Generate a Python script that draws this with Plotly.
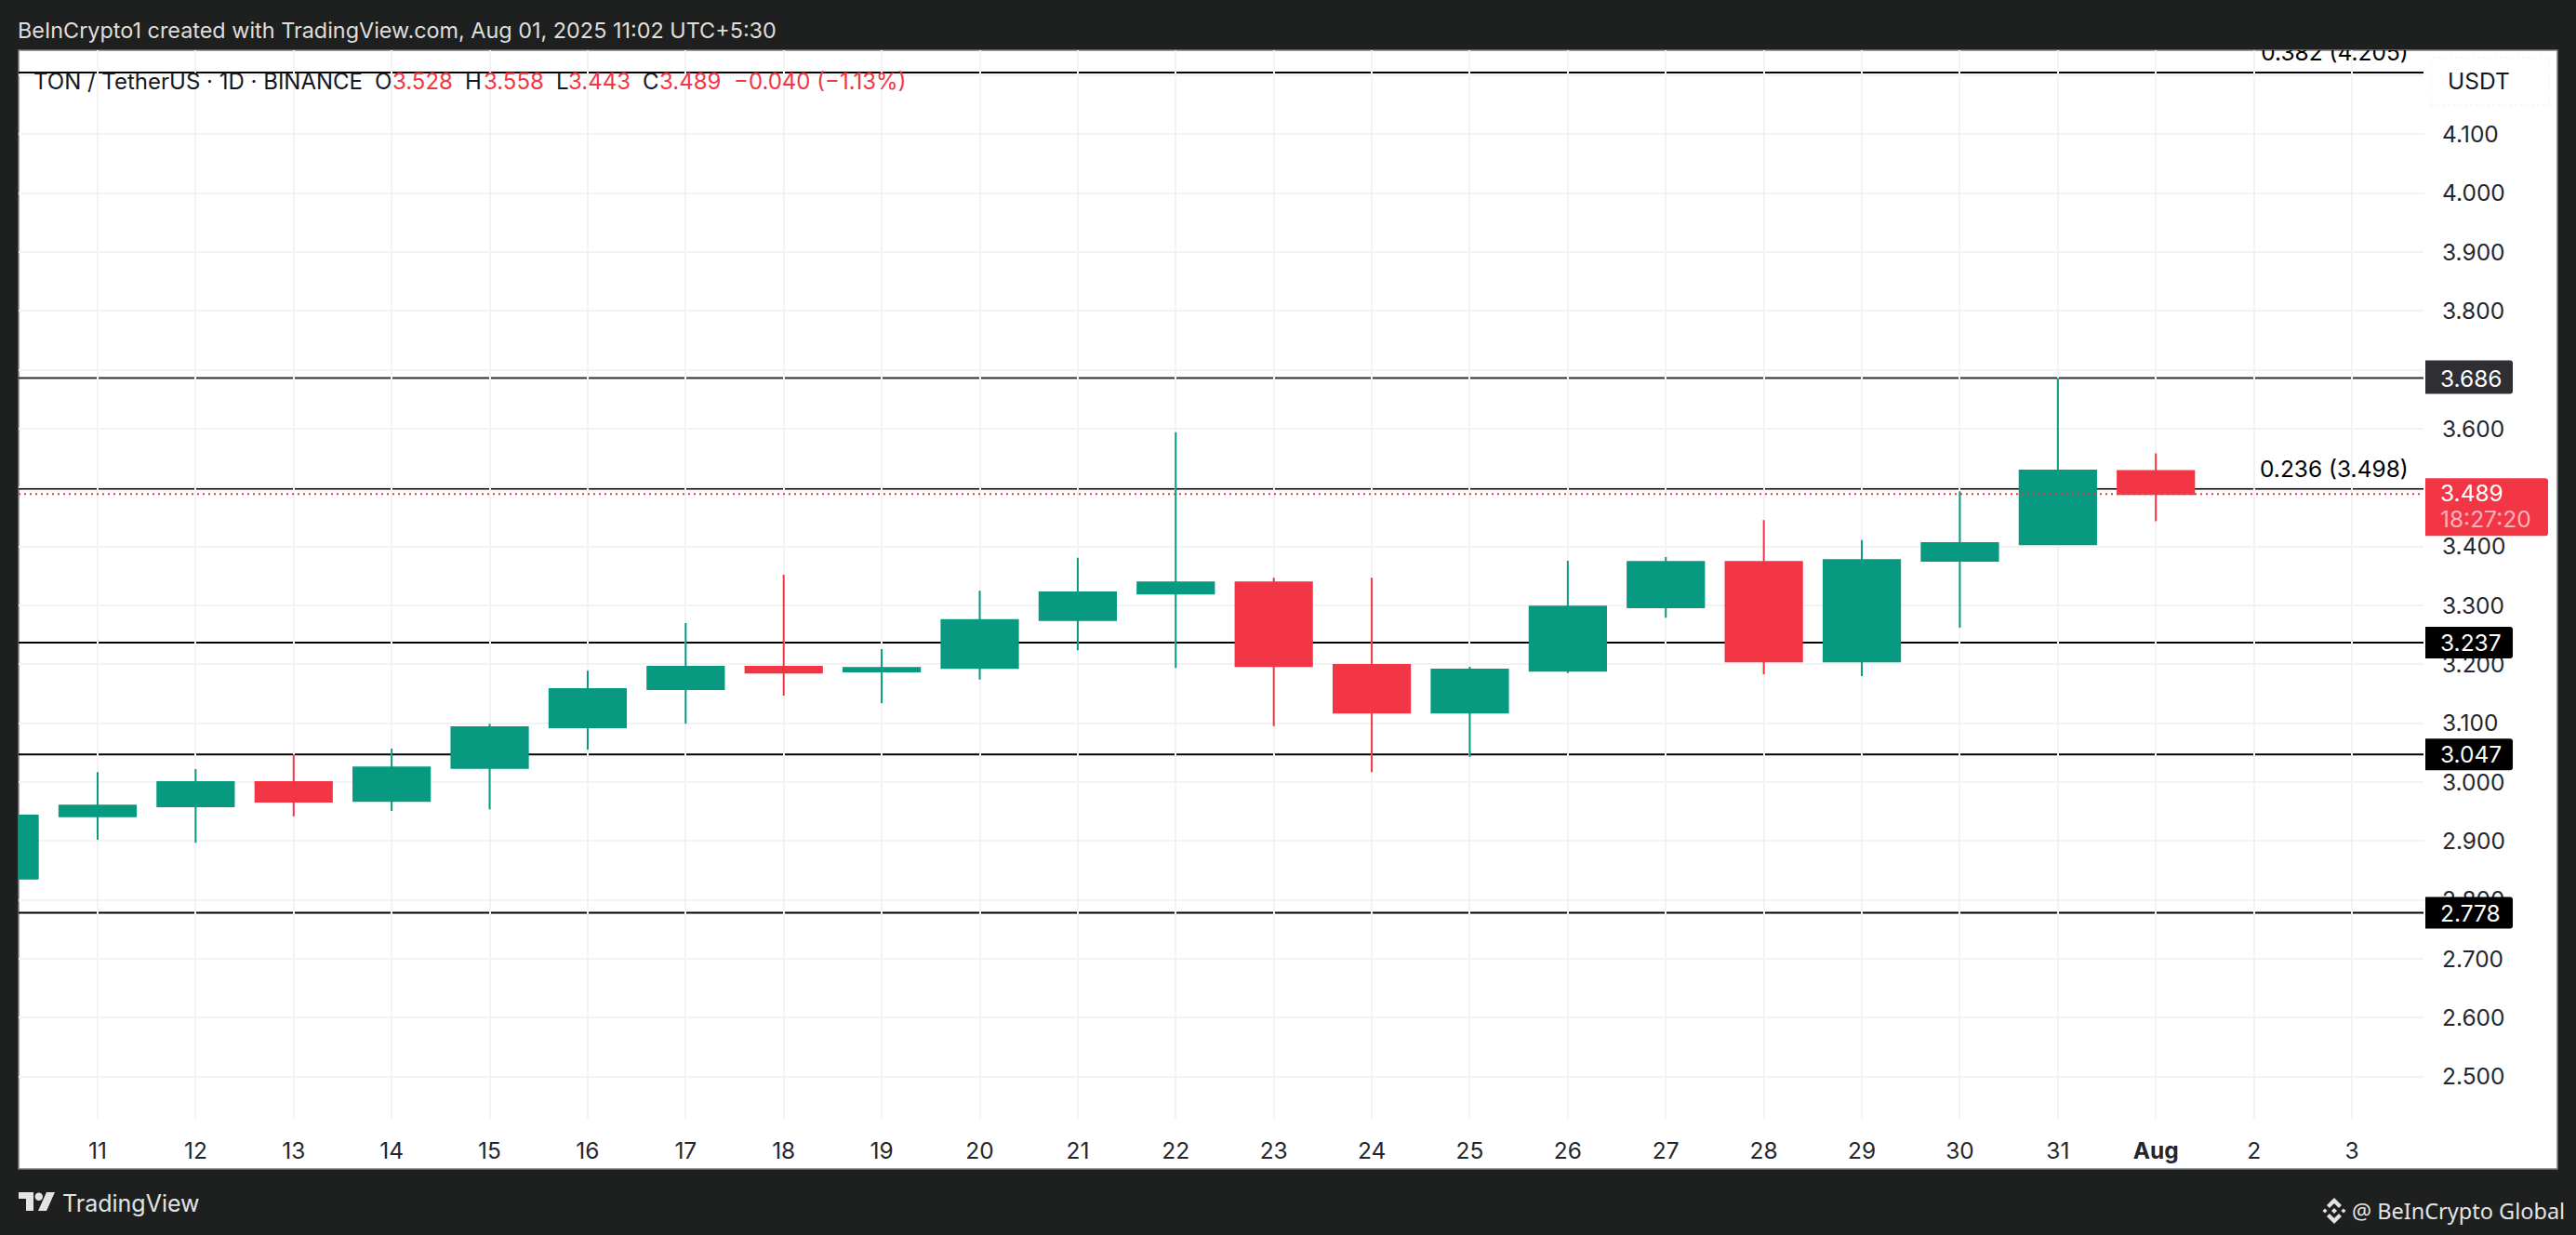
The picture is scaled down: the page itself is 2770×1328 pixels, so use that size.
import plotly.graph_objects as go

# ---------- data ----------
dates = ["2025-07-%02d" % d for d in range(10, 32)] + ["2025-08-01"]
open_ = [2.836, 2.942, 2.959, 3.000, 2.968, 3.024, 3.093, 3.158, 3.196, 3.188, 3.194, 3.275,
         3.320, 3.339, 3.199, 3.118, 3.189, 3.297, 3.374, 3.205, 3.376, 3.404, 3.528]
high = [2.950, 3.017, 3.022, 3.047, 3.057, 3.099, 3.189, 3.270, 3.352, 3.226, 3.325, 3.381,
        3.594, 3.347, 3.347, 3.196, 3.376, 3.382, 3.445, 3.411, 3.494, 3.686, 3.558]
low = [2.830, 2.902, 2.897, 2.942, 2.951, 2.954, 3.055, 3.099, 3.147, 3.134, 3.174, 3.224,
       3.194, 3.095, 3.017, 3.043, 3.185, 3.279, 3.183, 3.180, 3.262, 3.404, 3.443]
close = [2.943, 2.960, 3.000, 2.967, 3.025, 3.093, 3.158, 3.196, 3.186, 3.194, 3.275, 3.322,
         3.339, 3.197, 3.118, 3.191, 3.298, 3.374, 3.205, 3.377, 3.406, 3.529, 3.489]

level_values = [4.205, 3.686, 3.498, 3.237, 3.047, 2.778]
level_colors = ["#000000", "#2e2e33", "#000000", "#000000", "#000000", "#000000"]
fib_labels = ["0.382 (4.205)", "0.236 (3.498)"]
fib_levels = [4.205, 3.498]
badge_values = [3.686, 3.237, 3.047, 2.778]
badge_colors = ["#2e2e33", "#000000", "#000000", "#000000"]
last_price = 3.489
countdown = "18:27:20"

x_tick_vals = ["2025-07-%02d" % d for d in range(11, 32)] + ["2025-08-01", "2025-08-02", "2025-08-03"]
x_tick_text = [str(d) for d in range(11, 32)] + ["<b>Aug</b>", "2", "3"]
y_tick_vals = [2.5, 2.6, 2.7, 2.8, 2.9, 3.0, 3.1, 3.2, 3.3, 3.4, 3.5, 3.6, 3.7, 3.8, 3.9, 4.0, 4.1, 4.2]

title_text = "BeInCrypto1 created with TradingView.com, Aug 01, 2025 11:02 UTC+5:30"
legend_items = [
    ("TON / TetherUS · 1D · BINANCE", 36, "#131722"),
    ("O", 403, "#131722"), ("3.528", 422, "#f23645"),
    ("H", 500, "#131722"), ("3.558", 520, "#f23645"),
    ("L", 598, "#131722"), ("3.443", 611, "#f23645"),
    ("C", 691, "#131722"), ("3.489", 709, "#f23645"),
    ("−0.040 (−1.13%)", 789, "#f23645"),
]

# ---------- layout constants ----------
W, H = 2770, 1328
L, R, T, B = 20, 2606, 54, 1203
DARK = "#1e201f"
GREEN = "#089981"
RED = "#f23645"
GRID = "#f3f3f3"
FONT = "Inter"
FS = 24.5


def px(x):
    return (x - L) / (R - L)


def py(y):
    return (B - y) / (B - T)


def poly(points):
    return "M " + " L ".join(f"{px(a):.5f} {py(b):.5f}" for a, b in points) + " Z"


def page_shape(path, color):
    return dict(type="path", xref="paper", yref="paper", path=path,
                fillcolor=color, line=dict(width=0), layer="above")


def badge(value, color, up, down, width):
    r = 3
    path = (f"M 2 {-down} L {width-r} {-down} Q {width} {-down} {width} {-down+r} "
            f"L {width} {up-r} Q {width} {up} {width-r} {up} L 2 {up} Z")
    return dict(type="path", xref="paper", yref="y", xsizemode="pixel", ysizemode="pixel",
                xanchor=1, yanchor=value, path=path, fillcolor=color, line=dict(width=0), layer="above")


shapes = [
    # white panel
    dict(type="rect", xref="paper", yref="paper", x0=px(20), x1=px(2750), y0=py(1257), y1=py(54),
         fillcolor="#ffffff", line=dict(color="#7a7c80", width=1.5), layer="below"),
]
for v, c in zip(level_values, level_colors):
    shapes.append(dict(type="line", xref="paper", yref="y", x0=0, x1=1, y0=v, y1=v,
                       line=dict(color=c, width=2), layer="between"))
shapes.append(dict(type="line", xref="paper", yref="y", x0=0, x1=1, y0=last_price, y1=last_price,
                   line=dict(color=RED, width=2, dash="2px,4px"), layer="above"))
for v, c in zip(badge_values, badge_colors):
    shapes.append(badge(v, c, 19 if v == badge_values[0] else 17, 17, 96))
shapes.append(badge(last_price, RED, 17, 45, 134))
# USDT box
shapes.append(dict(type="rect", xref="paper", yref="paper", x0=px(2614), x1=px(2741), y0=py(113), y1=py(62),
                   fillcolor="#ffffff", line=dict(color="#f2f2f2", width=1, dash="dot"), layer="above"))
# TradingView logo
LOGO = "#e3e3e3"
shapes.append(page_shape(poly([(20, 1282), (36, 1282), (36, 1302), (28, 1302), (28, 1289), (20, 1289)]), LOGO))
shapes.append(dict(type="circle", xref="paper", yref="paper", x0=px(37.5), x1=px(46), y0=py(1291), y1=py(1282.5),
                   fillcolor=LOGO, line=dict(width=0), layer="above"))
shapes.append(page_shape(poly([(50, 1282), (59, 1282), (50, 1302), (41, 1302)]), LOGO))
# Binance logo
cx, cy = 2510, 1302
shapes.append(page_shape(poly([(cx, cy - 14), (cx + 8, cy - 6), (cx + 5, cy - 3), (cx, cy - 8), (cx - 5, cy - 3), (cx - 8, cy - 6)]), LOGO))
shapes.append(page_shape(poly([(cx, cy + 14), (cx + 8, cy + 6), (cx + 5, cy + 3), (cx, cy + 8), (cx - 5, cy + 3), (cx - 8, cy + 6)]), LOGO))
shapes.append(page_shape(poly([(cx, cy - 3), (cx + 3, cy), (cx, cy + 3), (cx - 3, cy)]), LOGO))
shapes.append(page_shape(poly([(cx - 10, cy - 2.5), (cx - 7.5, cy), (cx - 10, cy + 2.5), (cx - 12.5, cy)]), LOGO))
shapes.append(page_shape(poly([(cx + 10, cy - 2.5), (cx + 12.5, cy), (cx + 10, cy + 2.5), (cx + 7.5, cy)]), LOGO))


def page_text(text, x, y, color, size=FS, family=FONT, anchor="left"):
    return dict(text=text, xref="paper", yref="paper", x=px(x), y=py(y), xanchor=anchor, yanchor="middle",
                showarrow=False, font=dict(family=family, size=size, color=color), borderpad=0, borderwidth=0)


annotations = [page_text(title_text, 19, 32, "#dedede", 23.4),
               page_text("TradingView", 67, 1294, "#e3e3e3", 25),
               page_text("@ BeInCrypto Global", 2529, 1302, "#e3e3e3", 23.5, "Noto Sans"),
               page_text("USDT", 2632, 87, "#131722", FS)]
for t, x, c in legend_items:
    annotations.append(page_text(t, x, 87, c, 24))
for v in badge_values:
    annotations.append(dict(text=f"{v:.3f}", xref="paper", yref="y", x=px(2624), y=v, xanchor="left", yanchor="middle",
                            showarrow=False, font=dict(family=FONT, size=FS, color="#ffffff"), borderpad=0, borderwidth=0))
annotations.append(page_text(f"{last_price:.3f}", 2624, 530, "#ffffff"))
annotations.append(page_text(countdown, 2624, 558, "#f9b4ba"))

fig = go.Figure()
fig.add_trace(go.Candlestick(
    x=dates, open=open_, high=high, low=low, close=close,
    increasing=dict(line=dict(color=GREEN, width=2), fillcolor=GREEN),
    decreasing=dict(line=dict(color=RED, width=2), fillcolor=RED),
    showlegend=False,
))
# labels of the Fibonacci levels, clipped by the plot area like the original
label_lift = 0.011
fig.add_trace(go.Scatter(
    x=["2025-08-03 13:50"] * len(fib_labels), y=[v + label_lift for v in fib_levels],
    mode="text", text=fib_labels, textposition="top left",
    textfont=dict(family=FONT, size=FS, color="#000000"),
    cliponaxis=True, showlegend=False, hoverinfo="skip",
))

fig.update_layout(
    width=W, height=H, autosize=False,
    margin=dict(l=L, r=W - R, t=T, b=H - B, pad=0),
    paper_bgcolor=DARK, plot_bgcolor="#ffffff",
    boxgap=0.22, boxgroupgap=0, showlegend=False,
    font=dict(family=FONT, size=FS, color="#24262d"),
    shapes=shapes, annotations=annotations,
    xaxis=dict(type="date", range=["2025-07-10 04:39", "2025-08-03 17:32"],
               rangeslider=dict(visible=False),
               tickmode="array", tickvals=x_tick_vals, ticktext=x_tick_text, tickangle=0,
               showgrid=True, gridcolor=GRID, gridwidth=2, zeroline=False, showline=False,
               ticks="", ticklabelstandoff=17, tickfont=dict(family=FONT, size=FS, color="#24262d")),
    yaxis=dict(side="right", range=[2.4284, 4.2427], tickmode="array", tickvals=y_tick_vals,
               tickformat=".3f", showgrid=True, gridcolor=GRID, gridwidth=2, zeroline=False, showline=False,
               ticks="", ticklabelstandoff=19, tickfont=dict(family=FONT, size=FS, color="#24262d")),
)
fig.write_html("out.html", config=dict(displayModeBar=False),
               post_script="document.body.style.margin='0';document.body.style.overflow='hidden';")
